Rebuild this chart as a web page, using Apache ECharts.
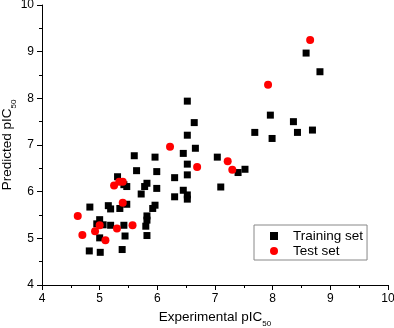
<!DOCTYPE html>
<html>
<head>
<meta charset="utf-8">
<script src="https://cdn.jsdelivr.net/npm/echarts@6/dist/echarts.min.js"></script>
<style>html,body{margin:0;padding:0;background:#fff}#c{width:394px;height:328px}</style>
</head>
<body>
<div id="c"></div>
<script>
// Training set: [experimental, predicted]
const trainingSet = [
  [5.60,6.77],[5.96,6.74],[5.64,6.45],[5.99,6.43],[5.31,6.32],[5.47,6.11],[5.42,6.15],
  [5.82,6.18],[5.78,6.11],[5.72,5.95],[5.99,6.07],[4.83,5.67],[5.15,5.70],[5.19,5.63],
  [5.35,5.64],[5.47,5.73],[5.96,5.71],[5.92,5.64],[5.82,5.48],[5.82,5.39],[5.80,5.26],
  [5.82,5.06],[5.00,5.40],[4.95,5.31],[5.06,5.29],[5.19,5.28],[5.42,5.28],[5.00,5.01],
  [5.44,5.05],[4.82,4.73],[5.01,4.70],[5.39,4.76],[6.52,7.94],[6.64,7.48],[6.52,7.21],
  [6.66,6.93],[6.45,6.82],[6.52,6.59],[7.04,6.74],[6.52,6.36],[6.30,6.30],[7.40,6.41],
  [7.52,6.48],[6.30,5.89],[6.45,6.03],[6.52,5.93],[6.52,5.84],[7.10,6.10],[8.58,8.97],
  [8.82,8.57],[7.96,7.64],[8.36,7.50],[7.69,7.27],[7.99,7.14],[8.43,7.27],[8.69,7.32]
];
// Test set: [experimental, predicted]
const testSet = [
  [4.62,5.48],[4.70,5.07],[4.92,5.15],[5.00,5.28],[5.10,4.96],[5.30,5.21],[5.57,5.28],
  [5.40,5.76],[5.25,6.13],[5.34,6.21],[5.40,6.21],[6.69,6.53],[6.22,6.96],[7.22,6.65],
  [7.30,6.47],[7.92,8.29],[8.65,9.25]
];
const seriesNames = ['Training set', 'Test set'];
const xTitle = 'Experimental pIC';
const yTitle = 'Predicted pIC';
const subscript = '50';

const FONT = '"Liberation Sans", Arial, sans-serif';
const chart = echarts.init(document.getElementById('c'), null, {renderer: 'canvas'});
const axisCommon = {
  min: 4, max: 10, interval: 1,
  nameLocation: 'middle',
  nameMoveOverlap: false,
  axisLine: {show: true, onZero: false, lineStyle: {color: '#000', width: 1}},
  axisTick: {show: true, inside: false, length: 5, lineStyle: {color: '#000'}},
  minorTick: {show: true, splitNumber: 2, length: 3, lineStyle: {color: '#000'}},
  splitLine: {show: false},
  axisLabel: {color: '#000', fontFamily: FONT, fontSize: 12, margin: 8},
  nameTextStyle: {
    color: '#000', fontFamily: FONT, fontSize: 13.5,
    rich: {sub: {fontSize: 8, fontFamily: FONT, color: '#000', verticalAlign: 'bottom', padding: [0,0,-4,0]}}
  }
};
chart.setOption({
  animation: false,
  backgroundColor: '#fff',
  grid: {left: 42, right: 6, top: 5, bottom: 43, containLabel: false, outerBoundsMode: 'none'},
  xAxis: Object.assign({}, axisCommon, {type: 'value', name: xTitle + '{sub|' + subscript + '}', nameGap: 25}),
  yAxis: Object.assign({}, axisCommon, {type: 'value', name: yTitle + '{sub|' + subscript + '}', nameGap: 28}),
  legend: {
    orient: 'vertical',
    left: 254, top: 225,
    padding: [4, 4, 2, 16],
    itemGap: 1,
    itemWidth: 8, itemHeight: 8,
    borderColor: '#888', borderWidth: 1,
    textStyle: {color: '#000', fontFamily: FONT, fontSize: 13.5, padding: [0, 0, 0, 10]},
    data: [
      {name: seriesNames[0], icon: 'rect'},
      {name: seriesNames[1], icon: 'circle'}
    ]
  },
  series: [
    {name: seriesNames[0], type: 'scatter', symbol: 'rect', symbolSize: 7,
     itemStyle: {color: '#000', opacity: 1}, data: trainingSet},
    {name: seriesNames[1], type: 'scatter', symbol: 'circle', symbolSize: 8,
     itemStyle: {color: '#ff0000', opacity: 1}, data: testSet}
  ]
});
</script>
</body>
</html>
